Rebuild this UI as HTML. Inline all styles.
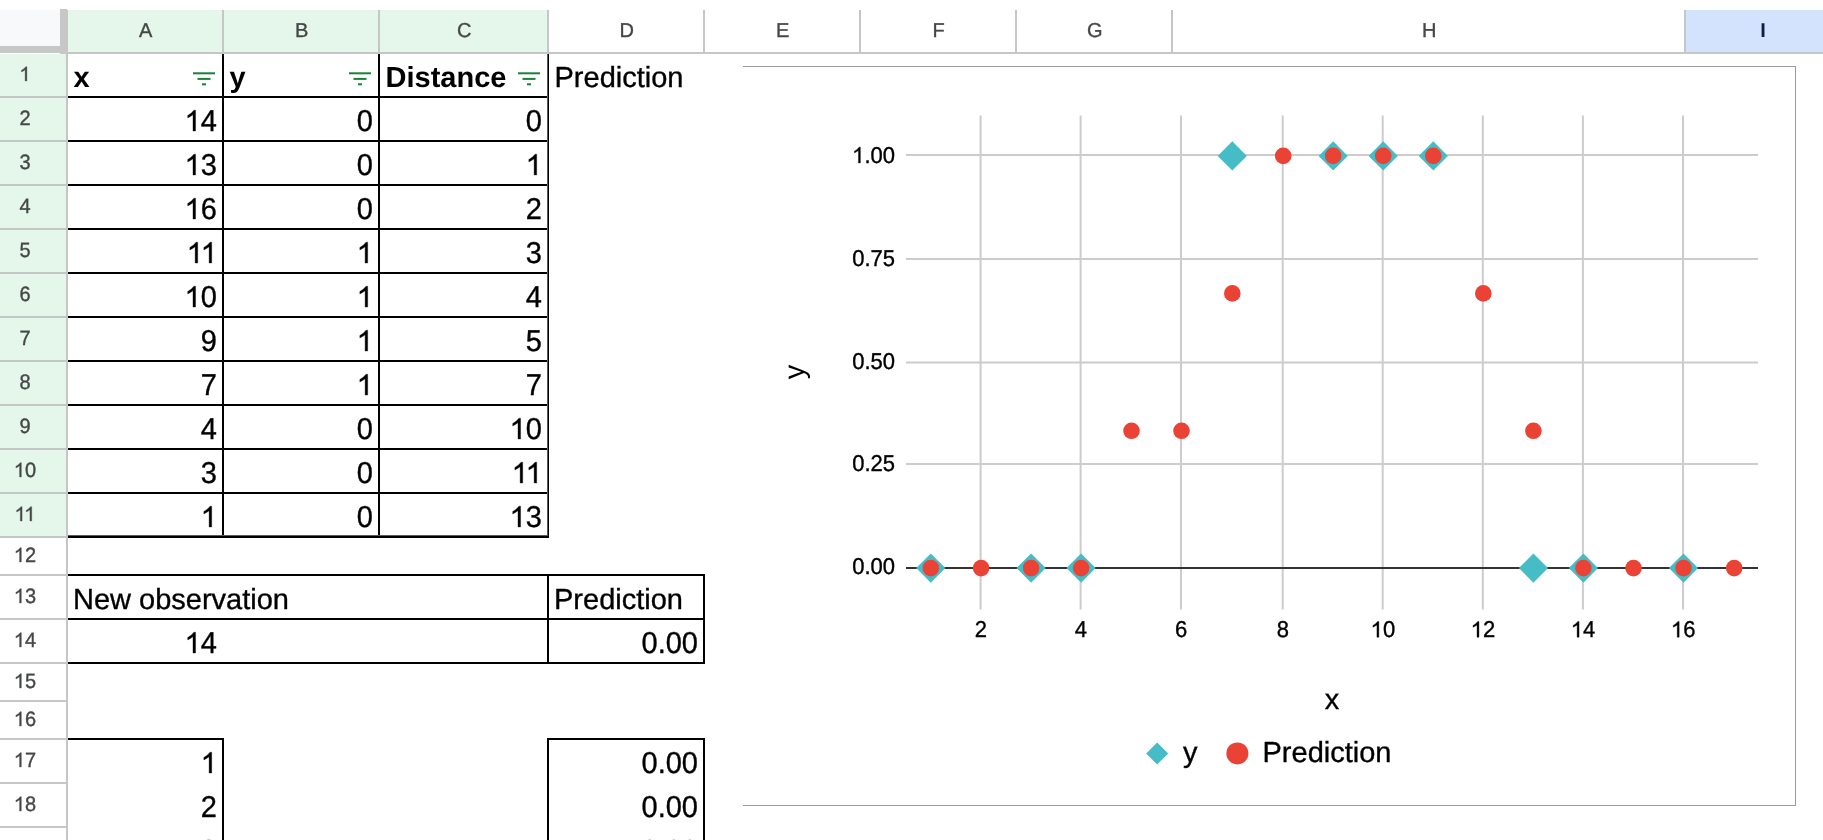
<!DOCTYPE html>
<html><head><meta charset="utf-8"><title>Sheet</title>
<style>html,body{margin:0;padding:0;background:#fff;}body{width:1823px;height:840px;overflow:hidden;}svg{display:block;font-family:"Liberation Sans", sans-serif;will-change:transform;text-rendering:geometricPrecision;}</style>
</head><body><svg width="1823" height="840" viewBox="0 0 1823 840">
<rect x="0" y="0" width="1823" height="840" fill="#fff"/>
<rect x="68" y="10" width="154" height="42" fill="#e5f7eb"/>
<rect x="224" y="10" width="154" height="42" fill="#e5f7eb"/>
<rect x="380" y="10" width="167" height="42" fill="#e5f7eb"/>
<rect x="549" y="10" width="154" height="42" fill="#fff"/>
<rect x="705" y="10" width="154" height="42" fill="#fff"/>
<rect x="861" y="10" width="154" height="42" fill="#fff"/>
<rect x="1017" y="10" width="154" height="42" fill="#fff"/>
<rect x="1173" y="10" width="511" height="42" fill="#fff"/>
<rect x="1686" y="10" width="154" height="42" fill="#d3e3fd"/>
<rect x="222" y="10" width="2" height="42" fill="#c4c7c5"/>
<rect x="378" y="10" width="2" height="42" fill="#c4c7c5"/>
<rect x="547" y="10" width="2" height="42" fill="#c4c7c5"/>
<rect x="703" y="10" width="2" height="42" fill="#c4c7c5"/>
<rect x="859" y="10" width="2" height="42" fill="#c4c7c5"/>
<rect x="1015" y="10" width="2" height="42" fill="#c4c7c5"/>
<rect x="1171" y="10" width="2" height="42" fill="#c4c7c5"/>
<rect x="1684" y="10" width="2" height="42" fill="#c4c7c5"/>
<rect x="66" y="52" width="1757" height="2" fill="#c4c7c5"/>
<text x="145.7" y="37" font-size="20" fill="#444746" text-anchor="middle" font-weight="normal" stroke="#444746" stroke-width="0.35" >A</text>
<text x="301.7" y="37" font-size="20" fill="#444746" text-anchor="middle" font-weight="normal" stroke="#444746" stroke-width="0.35" >B</text>
<text x="464.2" y="37" font-size="20" fill="#444746" text-anchor="middle" font-weight="normal" stroke="#444746" stroke-width="0.35" >C</text>
<text x="626.7" y="37" font-size="20" fill="#444746" text-anchor="middle" font-weight="normal" stroke="#444746" stroke-width="0.35" >D</text>
<text x="782.7" y="37" font-size="20" fill="#444746" text-anchor="middle" font-weight="normal" stroke="#444746" stroke-width="0.35" >E</text>
<text x="938.7" y="37" font-size="20" fill="#444746" text-anchor="middle" font-weight="normal" stroke="#444746" stroke-width="0.35" >F</text>
<text x="1094.7" y="37" font-size="20" fill="#444746" text-anchor="middle" font-weight="normal" stroke="#444746" stroke-width="0.35" >G</text>
<text x="1429.2" y="37" font-size="20" fill="#444746" text-anchor="middle" font-weight="normal" stroke="#444746" stroke-width="0.35" >H</text>
<text x="1763.0" y="37" font-size="20" fill="#0b1d4a" text-anchor="middle" font-weight="bold" >I</text>
<rect x="0" y="10" width="60" height="36" fill="#f8f9fa"/>
<rect x="60" y="9" width="7" height="45" fill="#c7c7c7"/>
<rect x="66" y="10" width="2" height="43" fill="#c4c7c5"/>
<rect x="0" y="46" width="67" height="7" fill="#c7c7c7"/>
<rect x="0" y="54" width="66" height="42" fill="#e5f7eb"/>
<rect x="0" y="96" width="66" height="2" fill="#c4c7c5"/>
<path transform="translate(19.438 81) scale(0.009766 -0.009766)" d="M763 0L583 0L583 1147Q400 1010 210 925L210 1099Q480 1230 646 1466L763 1466Z" fill="#444746" stroke="#444746" stroke-width="35.8"/>
<rect x="0" y="98" width="66" height="42" fill="#e5f7eb"/>
<rect x="0" y="140" width="66" height="2" fill="#c4c7c5"/>
<text x="0" y="0" transform="translate(19.438 125) scale(1 1.04)" font-size="20" fill="#444746" stroke="#444746" stroke-width="0.35">2</text>
<rect x="0" y="142" width="66" height="42" fill="#e5f7eb"/>
<rect x="0" y="184" width="66" height="2" fill="#c4c7c5"/>
<text x="0" y="0" transform="translate(19.438 169) scale(1 1.04)" font-size="20" fill="#444746" stroke="#444746" stroke-width="0.35">3</text>
<rect x="0" y="186" width="66" height="42" fill="#e5f7eb"/>
<rect x="0" y="228" width="66" height="2" fill="#c4c7c5"/>
<text x="0" y="0" transform="translate(19.438 213) scale(1 1.04)" font-size="20" fill="#444746" stroke="#444746" stroke-width="0.35">4</text>
<rect x="0" y="230" width="66" height="42" fill="#e5f7eb"/>
<rect x="0" y="272" width="66" height="2" fill="#c4c7c5"/>
<text x="0" y="0" transform="translate(19.438 257) scale(1 1.04)" font-size="20" fill="#444746" stroke="#444746" stroke-width="0.35">5</text>
<rect x="0" y="274" width="66" height="42" fill="#e5f7eb"/>
<rect x="0" y="316" width="66" height="2" fill="#c4c7c5"/>
<text x="0" y="0" transform="translate(19.438 301) scale(1 1.04)" font-size="20" fill="#444746" stroke="#444746" stroke-width="0.35">6</text>
<rect x="0" y="318" width="66" height="42" fill="#e5f7eb"/>
<rect x="0" y="360" width="66" height="2" fill="#c4c7c5"/>
<text x="0" y="0" transform="translate(19.438 345) scale(1 1.04)" font-size="20" fill="#444746" stroke="#444746" stroke-width="0.35">7</text>
<rect x="0" y="362" width="66" height="42" fill="#e5f7eb"/>
<rect x="0" y="404" width="66" height="2" fill="#c4c7c5"/>
<text x="0" y="0" transform="translate(19.438 389) scale(1 1.04)" font-size="20" fill="#444746" stroke="#444746" stroke-width="0.35">8</text>
<rect x="0" y="406" width="66" height="42" fill="#e5f7eb"/>
<rect x="0" y="448" width="66" height="2" fill="#c4c7c5"/>
<text x="0" y="0" transform="translate(19.438 433) scale(1 1.04)" font-size="20" fill="#444746" stroke="#444746" stroke-width="0.35">9</text>
<rect x="0" y="450" width="66" height="42" fill="#e5f7eb"/>
<rect x="0" y="492" width="66" height="2" fill="#c4c7c5"/>
<path transform="translate(13.877 477) scale(0.009766 -0.009766)" d="M763 0L583 0L583 1147Q400 1010 210 925L210 1099Q480 1230 646 1466L763 1466Z" fill="#444746" stroke="#444746" stroke-width="35.8"/>
<text x="0" y="0" transform="translate(25.000 477) scale(1 1.04)" font-size="20" fill="#444746" stroke="#444746" stroke-width="0.35">0</text>
<rect x="0" y="494" width="66" height="42" fill="#e5f7eb"/>
<rect x="0" y="536" width="66" height="2" fill="#c4c7c5"/>
<path transform="translate(14.619 521) scale(0.009766 -0.009766)" d="M763 0L583 0L583 1147Q400 1010 210 925L210 1099Q480 1230 646 1466L763 1466Z" fill="#444746" stroke="#444746" stroke-width="35.8"/>
<path transform="translate(24.258 521) scale(0.009766 -0.009766)" d="M763 0L583 0L583 1147Q400 1010 210 925L210 1099Q480 1230 646 1466L763 1466Z" fill="#444746" stroke="#444746" stroke-width="35.8"/>
<rect x="0" y="538" width="66" height="36" fill="#fff"/>
<rect x="0" y="574" width="66" height="2" fill="#c4c7c5"/>
<path transform="translate(13.877 562) scale(0.009766 -0.009766)" d="M763 0L583 0L583 1147Q400 1010 210 925L210 1099Q480 1230 646 1466L763 1466Z" fill="#444746" stroke="#444746" stroke-width="35.8"/>
<text x="0" y="0" transform="translate(25.000 562) scale(1 1.04)" font-size="20" fill="#444746" stroke="#444746" stroke-width="0.35">2</text>
<rect x="0" y="576" width="66" height="42" fill="#fff"/>
<rect x="0" y="618" width="66" height="2" fill="#c4c7c5"/>
<path transform="translate(13.877 603) scale(0.009766 -0.009766)" d="M763 0L583 0L583 1147Q400 1010 210 925L210 1099Q480 1230 646 1466L763 1466Z" fill="#444746" stroke="#444746" stroke-width="35.8"/>
<text x="0" y="0" transform="translate(25.000 603) scale(1 1.04)" font-size="20" fill="#444746" stroke="#444746" stroke-width="0.35">3</text>
<rect x="0" y="620" width="66" height="42" fill="#fff"/>
<rect x="0" y="662" width="66" height="2" fill="#c4c7c5"/>
<path transform="translate(13.877 647) scale(0.009766 -0.009766)" d="M763 0L583 0L583 1147Q400 1010 210 925L210 1099Q480 1230 646 1466L763 1466Z" fill="#444746" stroke="#444746" stroke-width="35.8"/>
<text x="0" y="0" transform="translate(25.000 647) scale(1 1.04)" font-size="20" fill="#444746" stroke="#444746" stroke-width="0.35">4</text>
<rect x="0" y="664" width="66" height="36" fill="#fff"/>
<rect x="0" y="700" width="66" height="2" fill="#c4c7c5"/>
<path transform="translate(13.877 688) scale(0.009766 -0.009766)" d="M763 0L583 0L583 1147Q400 1010 210 925L210 1099Q480 1230 646 1466L763 1466Z" fill="#444746" stroke="#444746" stroke-width="35.8"/>
<text x="0" y="0" transform="translate(25.000 688) scale(1 1.04)" font-size="20" fill="#444746" stroke="#444746" stroke-width="0.35">5</text>
<rect x="0" y="702" width="66" height="36" fill="#fff"/>
<rect x="0" y="738" width="66" height="2" fill="#c4c7c5"/>
<path transform="translate(13.877 726) scale(0.009766 -0.009766)" d="M763 0L583 0L583 1147Q400 1010 210 925L210 1099Q480 1230 646 1466L763 1466Z" fill="#444746" stroke="#444746" stroke-width="35.8"/>
<text x="0" y="0" transform="translate(25.000 726) scale(1 1.04)" font-size="20" fill="#444746" stroke="#444746" stroke-width="0.35">6</text>
<rect x="0" y="740" width="66" height="42" fill="#fff"/>
<rect x="0" y="782" width="66" height="2" fill="#c4c7c5"/>
<path transform="translate(13.877 767) scale(0.009766 -0.009766)" d="M763 0L583 0L583 1147Q400 1010 210 925L210 1099Q480 1230 646 1466L763 1466Z" fill="#444746" stroke="#444746" stroke-width="35.8"/>
<text x="0" y="0" transform="translate(25.000 767) scale(1 1.04)" font-size="20" fill="#444746" stroke="#444746" stroke-width="0.35">7</text>
<rect x="0" y="784" width="66" height="42" fill="#fff"/>
<rect x="0" y="826" width="66" height="2" fill="#c4c7c5"/>
<path transform="translate(13.877 811) scale(0.009766 -0.009766)" d="M763 0L583 0L583 1147Q400 1010 210 925L210 1099Q480 1230 646 1466L763 1466Z" fill="#444746" stroke="#444746" stroke-width="35.8"/>
<text x="0" y="0" transform="translate(25.000 811) scale(1 1.04)" font-size="20" fill="#444746" stroke="#444746" stroke-width="0.35">8</text>
<rect x="0" y="828" width="66" height="42" fill="#fff"/>
<rect x="0" y="870" width="66" height="2" fill="#c4c7c5"/>
<path transform="translate(13.877 855) scale(0.009766 -0.009766)" d="M763 0L583 0L583 1147Q400 1010 210 925L210 1099Q480 1230 646 1466L763 1466Z" fill="#444746" stroke="#444746" stroke-width="35.8"/>
<text x="0" y="0" transform="translate(25.000 855) scale(1 1.04)" font-size="20" fill="#444746" stroke="#444746" stroke-width="0.35">9</text>
<rect x="66" y="53" width="2" height="787" fill="#c4c7c5"/>
<rect x="68" y="96" width="481" height="2" fill="#000"/>
<rect x="68" y="140" width="481" height="2" fill="#000"/>
<rect x="68" y="184" width="481" height="2" fill="#000"/>
<rect x="68" y="228" width="481" height="2" fill="#000"/>
<rect x="68" y="272" width="481" height="2" fill="#000"/>
<rect x="68" y="316" width="481" height="2" fill="#000"/>
<rect x="68" y="360" width="481" height="2" fill="#000"/>
<rect x="68" y="404" width="481" height="2" fill="#000"/>
<rect x="68" y="448" width="481" height="2" fill="#000"/>
<rect x="68" y="492" width="481" height="2" fill="#000"/>
<rect x="68" y="536" width="481" height="2" fill="#000"/>
<rect x="222" y="54" width="2" height="484" fill="#000"/>
<rect x="378" y="54" width="2" height="484" fill="#000"/>
<rect x="548" y="54" width="1" height="484" fill="#000"/>
<rect x="547" y="54" width="1" height="482" fill="#188038"/>
<rect x="68" y="535" width="480" height="1" fill="#188038"/>
<text x="73.5" y="87" font-size="29" fill="#000" text-anchor="start" font-weight="bold" >x</text>
<rect x="193" y="72.3" width="22" height="2" fill="#188038"/>
<rect x="197.5" y="77.9" width="13" height="2" fill="#188038"/>
<rect x="202" y="83.3" width="4" height="2" fill="#188038"/>
<text x="229.5" y="87" font-size="29" fill="#000" text-anchor="start" font-weight="bold" >y</text>
<rect x="349" y="72.3" width="22" height="2" fill="#188038"/>
<rect x="353.5" y="77.9" width="13" height="2" fill="#188038"/>
<rect x="358" y="83.3" width="4" height="2" fill="#188038"/>
<text x="385.5" y="87" font-size="29" fill="#000" text-anchor="start" font-weight="bold" >Distance</text>
<rect x="518" y="72.3" width="22" height="2" fill="#188038"/>
<rect x="522.5" y="77.9" width="13" height="2" fill="#188038"/>
<rect x="527" y="83.3" width="4" height="2" fill="#188038"/>
<text x="554.5" y="87" font-size="29" fill="#000" text-anchor="start" font-weight="normal" stroke="#000" stroke-width="0.35" >Prediction</text>
<path transform="translate(184.743 131) scale(0.014160 -0.014160)" d="M763 0L583 0L583 1147Q400 1010 210 925L210 1099Q480 1230 646 1466L763 1466Z" fill="#000" stroke="#000" stroke-width="24.7"/>
<text x="0" y="0" transform="translate(200.872 131) scale(1 1.04)" font-size="29" fill="#000" stroke="#000" stroke-width="0.35">4</text>
<text x="0" y="0" transform="translate(356.872 131) scale(1 1.04)" font-size="29" fill="#000" stroke="#000" stroke-width="0.35">0</text>
<text x="0" y="0" transform="translate(525.872 131) scale(1 1.04)" font-size="29" fill="#000" stroke="#000" stroke-width="0.35">0</text>
<path transform="translate(184.743 175) scale(0.014160 -0.014160)" d="M763 0L583 0L583 1147Q400 1010 210 925L210 1099Q480 1230 646 1466L763 1466Z" fill="#000" stroke="#000" stroke-width="24.7"/>
<text x="0" y="0" transform="translate(200.872 175) scale(1 1.04)" font-size="29" fill="#000" stroke="#000" stroke-width="0.35">3</text>
<text x="0" y="0" transform="translate(356.872 175) scale(1 1.04)" font-size="29" fill="#000" stroke="#000" stroke-width="0.35">0</text>
<path transform="translate(525.872 175) scale(0.014160 -0.014160)" d="M763 0L583 0L583 1147Q400 1010 210 925L210 1099Q480 1230 646 1466L763 1466Z" fill="#000" stroke="#000" stroke-width="24.7"/>
<path transform="translate(184.743 219) scale(0.014160 -0.014160)" d="M763 0L583 0L583 1147Q400 1010 210 925L210 1099Q480 1230 646 1466L763 1466Z" fill="#000" stroke="#000" stroke-width="24.7"/>
<text x="0" y="0" transform="translate(200.872 219) scale(1 1.04)" font-size="29" fill="#000" stroke="#000" stroke-width="0.35">6</text>
<text x="0" y="0" transform="translate(356.872 219) scale(1 1.04)" font-size="29" fill="#000" stroke="#000" stroke-width="0.35">0</text>
<text x="0" y="0" transform="translate(525.872 219) scale(1 1.04)" font-size="29" fill="#000" stroke="#000" stroke-width="0.35">2</text>
<path transform="translate(186.896 263) scale(0.014160 -0.014160)" d="M763 0L583 0L583 1147Q400 1010 210 925L210 1099Q480 1230 646 1466L763 1466Z" fill="#000" stroke="#000" stroke-width="24.7"/>
<path transform="translate(200.872 263) scale(0.014160 -0.014160)" d="M763 0L583 0L583 1147Q400 1010 210 925L210 1099Q480 1230 646 1466L763 1466Z" fill="#000" stroke="#000" stroke-width="24.7"/>
<path transform="translate(356.872 263) scale(0.014160 -0.014160)" d="M763 0L583 0L583 1147Q400 1010 210 925L210 1099Q480 1230 646 1466L763 1466Z" fill="#000" stroke="#000" stroke-width="24.7"/>
<text x="0" y="0" transform="translate(525.872 263) scale(1 1.04)" font-size="29" fill="#000" stroke="#000" stroke-width="0.35">3</text>
<path transform="translate(184.743 307) scale(0.014160 -0.014160)" d="M763 0L583 0L583 1147Q400 1010 210 925L210 1099Q480 1230 646 1466L763 1466Z" fill="#000" stroke="#000" stroke-width="24.7"/>
<text x="0" y="0" transform="translate(200.872 307) scale(1 1.04)" font-size="29" fill="#000" stroke="#000" stroke-width="0.35">0</text>
<path transform="translate(356.872 307) scale(0.014160 -0.014160)" d="M763 0L583 0L583 1147Q400 1010 210 925L210 1099Q480 1230 646 1466L763 1466Z" fill="#000" stroke="#000" stroke-width="24.7"/>
<text x="0" y="0" transform="translate(525.872 307) scale(1 1.04)" font-size="29" fill="#000" stroke="#000" stroke-width="0.35">4</text>
<text x="0" y="0" transform="translate(200.872 351) scale(1 1.04)" font-size="29" fill="#000" stroke="#000" stroke-width="0.35">9</text>
<path transform="translate(356.872 351) scale(0.014160 -0.014160)" d="M763 0L583 0L583 1147Q400 1010 210 925L210 1099Q480 1230 646 1466L763 1466Z" fill="#000" stroke="#000" stroke-width="24.7"/>
<text x="0" y="0" transform="translate(525.872 351) scale(1 1.04)" font-size="29" fill="#000" stroke="#000" stroke-width="0.35">5</text>
<text x="0" y="0" transform="translate(200.872 395) scale(1 1.04)" font-size="29" fill="#000" stroke="#000" stroke-width="0.35">7</text>
<path transform="translate(356.872 395) scale(0.014160 -0.014160)" d="M763 0L583 0L583 1147Q400 1010 210 925L210 1099Q480 1230 646 1466L763 1466Z" fill="#000" stroke="#000" stroke-width="24.7"/>
<text x="0" y="0" transform="translate(525.872 395) scale(1 1.04)" font-size="29" fill="#000" stroke="#000" stroke-width="0.35">7</text>
<text x="0" y="0" transform="translate(200.872 439) scale(1 1.04)" font-size="29" fill="#000" stroke="#000" stroke-width="0.35">4</text>
<text x="0" y="0" transform="translate(356.872 439) scale(1 1.04)" font-size="29" fill="#000" stroke="#000" stroke-width="0.35">0</text>
<path transform="translate(509.743 439) scale(0.014160 -0.014160)" d="M763 0L583 0L583 1147Q400 1010 210 925L210 1099Q480 1230 646 1466L763 1466Z" fill="#000" stroke="#000" stroke-width="24.7"/>
<text x="0" y="0" transform="translate(525.872 439) scale(1 1.04)" font-size="29" fill="#000" stroke="#000" stroke-width="0.35">0</text>
<text x="0" y="0" transform="translate(200.872 483) scale(1 1.04)" font-size="29" fill="#000" stroke="#000" stroke-width="0.35">3</text>
<text x="0" y="0" transform="translate(356.872 483) scale(1 1.04)" font-size="29" fill="#000" stroke="#000" stroke-width="0.35">0</text>
<path transform="translate(511.896 483) scale(0.014160 -0.014160)" d="M763 0L583 0L583 1147Q400 1010 210 925L210 1099Q480 1230 646 1466L763 1466Z" fill="#000" stroke="#000" stroke-width="24.7"/>
<path transform="translate(525.872 483) scale(0.014160 -0.014160)" d="M763 0L583 0L583 1147Q400 1010 210 925L210 1099Q480 1230 646 1466L763 1466Z" fill="#000" stroke="#000" stroke-width="24.7"/>
<path transform="translate(200.872 527) scale(0.014160 -0.014160)" d="M763 0L583 0L583 1147Q400 1010 210 925L210 1099Q480 1230 646 1466L763 1466Z" fill="#000" stroke="#000" stroke-width="24.7"/>
<text x="0" y="0" transform="translate(356.872 527) scale(1 1.04)" font-size="29" fill="#000" stroke="#000" stroke-width="0.35">0</text>
<path transform="translate(509.743 527) scale(0.014160 -0.014160)" d="M763 0L583 0L583 1147Q400 1010 210 925L210 1099Q480 1230 646 1466L763 1466Z" fill="#000" stroke="#000" stroke-width="24.7"/>
<text x="0" y="0" transform="translate(525.872 527) scale(1 1.04)" font-size="29" fill="#000" stroke="#000" stroke-width="0.35">3</text>
<rect x="68" y="574" width="637" height="2" fill="#000"/>
<rect x="68" y="618" width="637" height="2" fill="#000"/>
<rect x="68" y="662" width="637" height="2" fill="#000"/>
<rect x="547" y="574" width="2" height="90" fill="#000"/>
<rect x="703" y="574" width="2" height="90" fill="#000"/>
<text x="73" y="609" font-size="29" fill="#000" text-anchor="start" font-weight="normal" stroke="#000" stroke-width="0.35" >New observation</text>
<text x="554" y="609" font-size="29" fill="#000" text-anchor="start" font-weight="normal" stroke="#000" stroke-width="0.35" >Prediction</text>
<path transform="translate(184.743 653) scale(0.014160 -0.014160)" d="M763 0L583 0L583 1147Q400 1010 210 925L210 1099Q480 1230 646 1466L763 1466Z" fill="#000" stroke="#000" stroke-width="24.7"/>
<text x="0" y="0" transform="translate(200.872 653) scale(1 1.04)" font-size="29" fill="#000" stroke="#000" stroke-width="0.35">4</text>
<text x="0" y="0" transform="translate(641.558 653) scale(1 1.04)" font-size="29" fill="#000" stroke="#000" stroke-width="0.35">0</text>
<text x="0" y="0" transform="translate(657.686 653) scale(1 1.04)" font-size="29" fill="#000" stroke="#000" stroke-width="0.35">.</text>
<text x="0" y="0" transform="translate(665.743 653) scale(1 1.04)" font-size="29" fill="#000" stroke="#000" stroke-width="0.35">0</text>
<text x="0" y="0" transform="translate(681.872 653) scale(1 1.04)" font-size="29" fill="#000" stroke="#000" stroke-width="0.35">0</text>
<rect x="68" y="738" width="156" height="2" fill="#000"/>
<rect x="222" y="738" width="2" height="102" fill="#000"/>
<rect x="547" y="738" width="158" height="2" fill="#000"/>
<rect x="547" y="738" width="2" height="102" fill="#000"/>
<rect x="703" y="738" width="2" height="102" fill="#000"/>
<path transform="translate(200.872 773) scale(0.014160 -0.014160)" d="M763 0L583 0L583 1147Q400 1010 210 925L210 1099Q480 1230 646 1466L763 1466Z" fill="#000" stroke="#000" stroke-width="24.7"/>
<text x="0" y="0" transform="translate(641.558 773) scale(1 1.04)" font-size="29" fill="#000" stroke="#000" stroke-width="0.35">0</text>
<text x="0" y="0" transform="translate(657.686 773) scale(1 1.04)" font-size="29" fill="#000" stroke="#000" stroke-width="0.35">.</text>
<text x="0" y="0" transform="translate(665.743 773) scale(1 1.04)" font-size="29" fill="#000" stroke="#000" stroke-width="0.35">0</text>
<text x="0" y="0" transform="translate(681.872 773) scale(1 1.04)" font-size="29" fill="#000" stroke="#000" stroke-width="0.35">0</text>
<text x="0" y="0" transform="translate(200.872 817) scale(1 1.04)" font-size="29" fill="#000" stroke="#000" stroke-width="0.35">2</text>
<text x="0" y="0" transform="translate(641.558 817) scale(1 1.04)" font-size="29" fill="#000" stroke="#000" stroke-width="0.35">0</text>
<text x="0" y="0" transform="translate(657.686 817) scale(1 1.04)" font-size="29" fill="#000" stroke="#000" stroke-width="0.35">.</text>
<text x="0" y="0" transform="translate(665.743 817) scale(1 1.04)" font-size="29" fill="#000" stroke="#000" stroke-width="0.35">0</text>
<text x="0" y="0" transform="translate(681.872 817) scale(1 1.04)" font-size="29" fill="#000" stroke="#000" stroke-width="0.35">0</text>
<text x="0" y="0" transform="translate(200.872 861) scale(1 1.04)" font-size="29" fill="#000" stroke="#000" stroke-width="0.35">3</text>
<text x="0" y="0" transform="translate(641.558 861) scale(1 1.04)" font-size="29" fill="#000" stroke="#000" stroke-width="0.35">0</text>
<text x="0" y="0" transform="translate(657.686 861) scale(1 1.04)" font-size="29" fill="#000" stroke="#000" stroke-width="0.35">.</text>
<text x="0" y="0" transform="translate(665.743 861) scale(1 1.04)" font-size="29" fill="#000" stroke="#000" stroke-width="0.35">0</text>
<text x="0" y="0" transform="translate(681.872 861) scale(1 1.04)" font-size="29" fill="#000" stroke="#000" stroke-width="0.35">0</text>
<rect x="743" y="66" width="1053" height="740" fill="#fff"/>
<rect x="743" y="66" width="1053" height="1" fill="#9a9a9a"/>
<rect x="1795" y="66" width="1" height="740" fill="#9a9a9a"/>
<rect x="743" y="805" width="1053" height="1" fill="#9a9a9a"/>
<line x1="906" x2="1758" y1="464.10" y2="464.10" stroke="#cccccc" stroke-width="2"/>
<line x1="906" x2="1758" y1="362.40" y2="362.40" stroke="#cccccc" stroke-width="2"/>
<line x1="906" x2="1758" y1="258.90" y2="258.90" stroke="#cccccc" stroke-width="2"/>
<line x1="906" x2="1758" y1="155.10" y2="155.10" stroke="#cccccc" stroke-width="2"/>
<line x1="980.60" x2="980.60" y1="115.5" y2="609.5" stroke="#cccccc" stroke-width="2"/>
<line x1="1080.60" x2="1080.60" y1="115.5" y2="609.5" stroke="#cccccc" stroke-width="2"/>
<line x1="1181.00" x2="1181.00" y1="115.5" y2="609.5" stroke="#cccccc" stroke-width="2"/>
<line x1="1282.70" x2="1282.70" y1="115.5" y2="609.5" stroke="#cccccc" stroke-width="2"/>
<line x1="1382.70" x2="1382.70" y1="115.5" y2="609.5" stroke="#cccccc" stroke-width="2"/>
<line x1="1482.80" x2="1482.80" y1="115.5" y2="609.5" stroke="#cccccc" stroke-width="2"/>
<line x1="1582.90" x2="1582.90" y1="115.5" y2="609.5" stroke="#cccccc" stroke-width="2"/>
<line x1="1683.00" x2="1683.00" y1="115.5" y2="609.5" stroke="#cccccc" stroke-width="2"/>
<line x1="906" x2="1758" y1="567.90" y2="567.90" stroke="#333" stroke-width="2"/>
<text x="0" y="0" transform="translate(852.182 573.7) scale(1 1.04)" font-size="22" fill="#000" stroke="#000" stroke-width="0.35">0</text>
<text x="0" y="0" transform="translate(864.417 573.7) scale(1 1.04)" font-size="22" fill="#000" stroke="#000" stroke-width="0.35">.</text>
<text x="0" y="0" transform="translate(870.529 573.7) scale(1 1.04)" font-size="22" fill="#000" stroke="#000" stroke-width="0.35">0</text>
<text x="0" y="0" transform="translate(882.765 573.7) scale(1 1.04)" font-size="22" fill="#000" stroke="#000" stroke-width="0.35">0</text>
<text x="0" y="0" transform="translate(852.182 470.8) scale(1 1.04)" font-size="22" fill="#000" stroke="#000" stroke-width="0.35">0</text>
<text x="0" y="0" transform="translate(864.417 470.8) scale(1 1.04)" font-size="22" fill="#000" stroke="#000" stroke-width="0.35">.</text>
<text x="0" y="0" transform="translate(870.529 470.8) scale(1 1.04)" font-size="22" fill="#000" stroke="#000" stroke-width="0.35">2</text>
<text x="0" y="0" transform="translate(882.765 470.8) scale(1 1.04)" font-size="22" fill="#000" stroke="#000" stroke-width="0.35">5</text>
<text x="0" y="0" transform="translate(852.182 368.8) scale(1 1.04)" font-size="22" fill="#000" stroke="#000" stroke-width="0.35">0</text>
<text x="0" y="0" transform="translate(864.417 368.8) scale(1 1.04)" font-size="22" fill="#000" stroke="#000" stroke-width="0.35">.</text>
<text x="0" y="0" transform="translate(870.529 368.8) scale(1 1.04)" font-size="22" fill="#000" stroke="#000" stroke-width="0.35">5</text>
<text x="0" y="0" transform="translate(882.765 368.8) scale(1 1.04)" font-size="22" fill="#000" stroke="#000" stroke-width="0.35">0</text>
<text x="0" y="0" transform="translate(852.182 265.8) scale(1 1.04)" font-size="22" fill="#000" stroke="#000" stroke-width="0.35">0</text>
<text x="0" y="0" transform="translate(864.417 265.8) scale(1 1.04)" font-size="22" fill="#000" stroke="#000" stroke-width="0.35">.</text>
<text x="0" y="0" transform="translate(870.529 265.8) scale(1 1.04)" font-size="22" fill="#000" stroke="#000" stroke-width="0.35">7</text>
<text x="0" y="0" transform="translate(882.765 265.8) scale(1 1.04)" font-size="22" fill="#000" stroke="#000" stroke-width="0.35">5</text>
<path transform="translate(852.182 162.9) scale(0.010742 -0.010742)" d="M763 0L583 0L583 1147Q400 1010 210 925L210 1099Q480 1230 646 1466L763 1466Z" fill="#000" stroke="#000" stroke-width="32.6"/>
<text x="0" y="0" transform="translate(864.417 162.9) scale(1 1.04)" font-size="22" fill="#000" stroke="#000" stroke-width="0.35">.</text>
<text x="0" y="0" transform="translate(870.529 162.9) scale(1 1.04)" font-size="22" fill="#000" stroke="#000" stroke-width="0.35">0</text>
<text x="0" y="0" transform="translate(882.765 162.9) scale(1 1.04)" font-size="22" fill="#000" stroke="#000" stroke-width="0.35">0</text>
<text x="0" y="0" transform="translate(974.682 637.2) scale(1 1.04)" font-size="22" fill="#000" stroke="#000" stroke-width="0.35">2</text>
<text x="0" y="0" transform="translate(1074.682 637.2) scale(1 1.04)" font-size="22" fill="#000" stroke="#000" stroke-width="0.35">4</text>
<text x="0" y="0" transform="translate(1175.082 637.2) scale(1 1.04)" font-size="22" fill="#000" stroke="#000" stroke-width="0.35">6</text>
<text x="0" y="0" transform="translate(1276.782 637.2) scale(1 1.04)" font-size="22" fill="#000" stroke="#000" stroke-width="0.35">8</text>
<path transform="translate(1370.665 637.2) scale(0.010742 -0.010742)" d="M763 0L583 0L583 1147Q400 1010 210 925L210 1099Q480 1230 646 1466L763 1466Z" fill="#000" stroke="#000" stroke-width="32.6"/>
<text x="0" y="0" transform="translate(1382.900 637.2) scale(1 1.04)" font-size="22" fill="#000" stroke="#000" stroke-width="0.35">0</text>
<path transform="translate(1470.765 637.2) scale(0.010742 -0.010742)" d="M763 0L583 0L583 1147Q400 1010 210 925L210 1099Q480 1230 646 1466L763 1466Z" fill="#000" stroke="#000" stroke-width="32.6"/>
<text x="0" y="0" transform="translate(1483.000 637.2) scale(1 1.04)" font-size="22" fill="#000" stroke="#000" stroke-width="0.35">2</text>
<path transform="translate(1570.865 637.2) scale(0.010742 -0.010742)" d="M763 0L583 0L583 1147Q400 1010 210 925L210 1099Q480 1230 646 1466L763 1466Z" fill="#000" stroke="#000" stroke-width="32.6"/>
<text x="0" y="0" transform="translate(1583.100 637.2) scale(1 1.04)" font-size="22" fill="#000" stroke="#000" stroke-width="0.35">4</text>
<path transform="translate(1670.965 637.2) scale(0.010742 -0.010742)" d="M763 0L583 0L583 1147Q400 1010 210 925L210 1099Q480 1230 646 1466L763 1466Z" fill="#000" stroke="#000" stroke-width="32.6"/>
<text x="0" y="0" transform="translate(1683.200 637.2) scale(1 1.04)" font-size="22" fill="#000" stroke="#000" stroke-width="0.35">6</text>
<text x="1332" y="709" font-size="29" fill="#000" text-anchor="middle" font-weight="normal" stroke="#000" stroke-width="0.35" >x</text>
<text x="0" y="0" font-size="29" fill="#000" text-anchor="middle" transform="translate(803.5 372) rotate(-90)">y</text>
<path d="M1583.40 553.50L1598.00 568.10L1583.40 582.70L1568.80 568.10Z" fill="#46bdc6"/>
<path d="M1533.40 553.50L1548.00 568.10L1533.40 582.70L1518.80 568.10Z" fill="#46bdc6"/>
<path d="M1683.50 553.50L1698.10 568.10L1683.50 582.70L1668.90 568.10Z" fill="#46bdc6"/>
<path d="M1433.30 141.30L1447.90 155.90L1433.30 170.50L1418.70 155.90Z" fill="#46bdc6"/>
<path d="M1383.20 141.30L1397.80 155.90L1383.20 170.50L1368.60 155.90Z" fill="#46bdc6"/>
<path d="M1333.20 141.30L1347.80 155.90L1333.20 170.50L1318.60 155.90Z" fill="#46bdc6"/>
<path d="M1232.30 141.30L1246.90 155.90L1232.30 170.50L1217.70 155.90Z" fill="#46bdc6"/>
<path d="M1081.10 553.50L1095.70 568.10L1081.10 582.70L1066.50 568.10Z" fill="#46bdc6"/>
<path d="M1031.10 553.50L1045.70 568.10L1031.10 582.70L1016.50 568.10Z" fill="#46bdc6"/>
<path d="M930.80 553.50L945.40 568.10L930.80 582.70L916.20 568.10Z" fill="#46bdc6"/>
<circle cx="930.80" cy="568.10" r="8.3" fill="#ea4335"/>
<circle cx="981.10" cy="568.10" r="8.3" fill="#ea4335"/>
<circle cx="1031.10" cy="568.10" r="8.3" fill="#ea4335"/>
<circle cx="1081.10" cy="568.10" r="8.3" fill="#ea4335"/>
<circle cx="1131.50" cy="430.80" r="8.3" fill="#ea4335"/>
<circle cx="1181.50" cy="430.80" r="8.3" fill="#ea4335"/>
<circle cx="1232.30" cy="293.40" r="8.3" fill="#ea4335"/>
<circle cx="1283.20" cy="155.90" r="8.3" fill="#ea4335"/>
<circle cx="1333.20" cy="155.90" r="8.3" fill="#ea4335"/>
<circle cx="1383.20" cy="155.90" r="8.3" fill="#ea4335"/>
<circle cx="1433.30" cy="155.90" r="8.3" fill="#ea4335"/>
<circle cx="1483.30" cy="293.40" r="8.3" fill="#ea4335"/>
<circle cx="1533.40" cy="430.80" r="8.3" fill="#ea4335"/>
<circle cx="1583.40" cy="568.10" r="8.3" fill="#ea4335"/>
<circle cx="1633.50" cy="568.10" r="8.3" fill="#ea4335"/>
<circle cx="1683.50" cy="568.10" r="8.3" fill="#ea4335"/>
<circle cx="1734.20" cy="568.10" r="8.3" fill="#ea4335"/>
<path d="M1157.2 742.5L1168.2 753.5L1157.2 764.5L1146.2 753.5Z" fill="#46bdc6"/>
<circle cx="1237.4" cy="753.4" r="11" fill="#ea4335"/>
<text x="1183" y="761.7" font-size="29" fill="#000" text-anchor="start" font-weight="normal" stroke="#000" stroke-width="0.35" >y</text>
<text x="1262.5" y="761.7" font-size="29" fill="#000" text-anchor="start" font-weight="normal" stroke="#000" stroke-width="0.35" >Prediction</text>
</svg></body></html>
